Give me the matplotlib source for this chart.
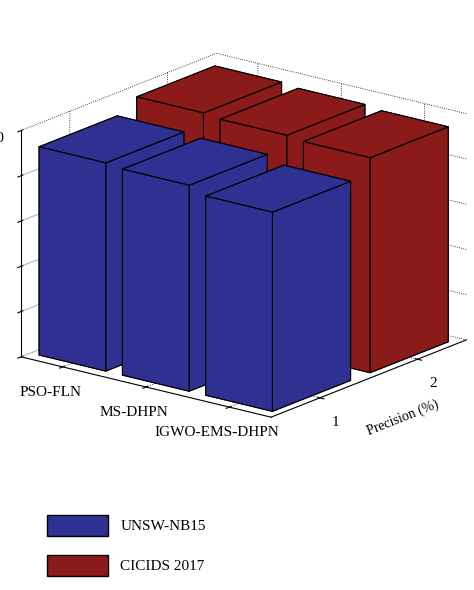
import matplotlib
matplotlib.use("Agg")
import matplotlib.pyplot as plt
import numpy as np
from matplotlib.patches import Patch

categories = ["PSO-FLN", "MS-DHPN", "IGWO-EMS-DHPN"]
series = ["UNSW-NB15", "CICIDS 2017"]
unsw = [92, 91, 88]
cicids = [97, 96, 95]
colors = ["#2e3192", "#8b1a1a"]

plt.rcParams['font.family'] = ['Liberation Serif', 'DejaVu Serif']
fig = plt.figure(figsize=(4.74, 5.90), dpi=100)
ax = fig.add_axes([-0.02, 0.16, 1.04, 0.86], projection='3d')
ax.view_init(elev=18, azim=-52)
ax.set_proj_type('ortho')
for s, vals in enumerate([unsw, cicids]):
    for c, v in enumerate(vals):
        ax.bar3d(c + 0.1, s + 0.6, 0, 0.8, 0.8, v, color=colors[s],
                 edgecolor='black', linewidth=0.8, shade=False, zsort='average')
ax.set_ylim(0.5, 2.5)
ax.set_xlim(0, 3)
ax.set_zlim(0, 100)
ax.set_yticks([1, 2])
ax.set_xticks([0.5, 1.5, 2.5])
ax.set_xticklabels(categories)
ax.set_zticks([0, 20, 40, 60, 80, 100])
ax.set_ylabel("Precision (%)")
ax.zaxis.set_ticks_position('lower')
for a in (ax.xaxis, ax.yaxis, ax.zaxis):
    a.set_pane_color((1, 1, 1, 0))
    a._axinfo['grid'].update(color='black', linestyle=':', linewidth=0.6)
ax.tick_params(labelsize=11)
handles = [Patch(facecolor=colors[i], edgecolor='black', label=series[i]) for i in range(2)]
fig.legend(handles=handles, loc='lower left', bbox_to_anchor=(0.07, 0.0), frameon=False,
           fontsize=11, handlelength=4, handleheight=1.8, labelspacing=1.2)
fig.savefig("out.png", dpi=100)
